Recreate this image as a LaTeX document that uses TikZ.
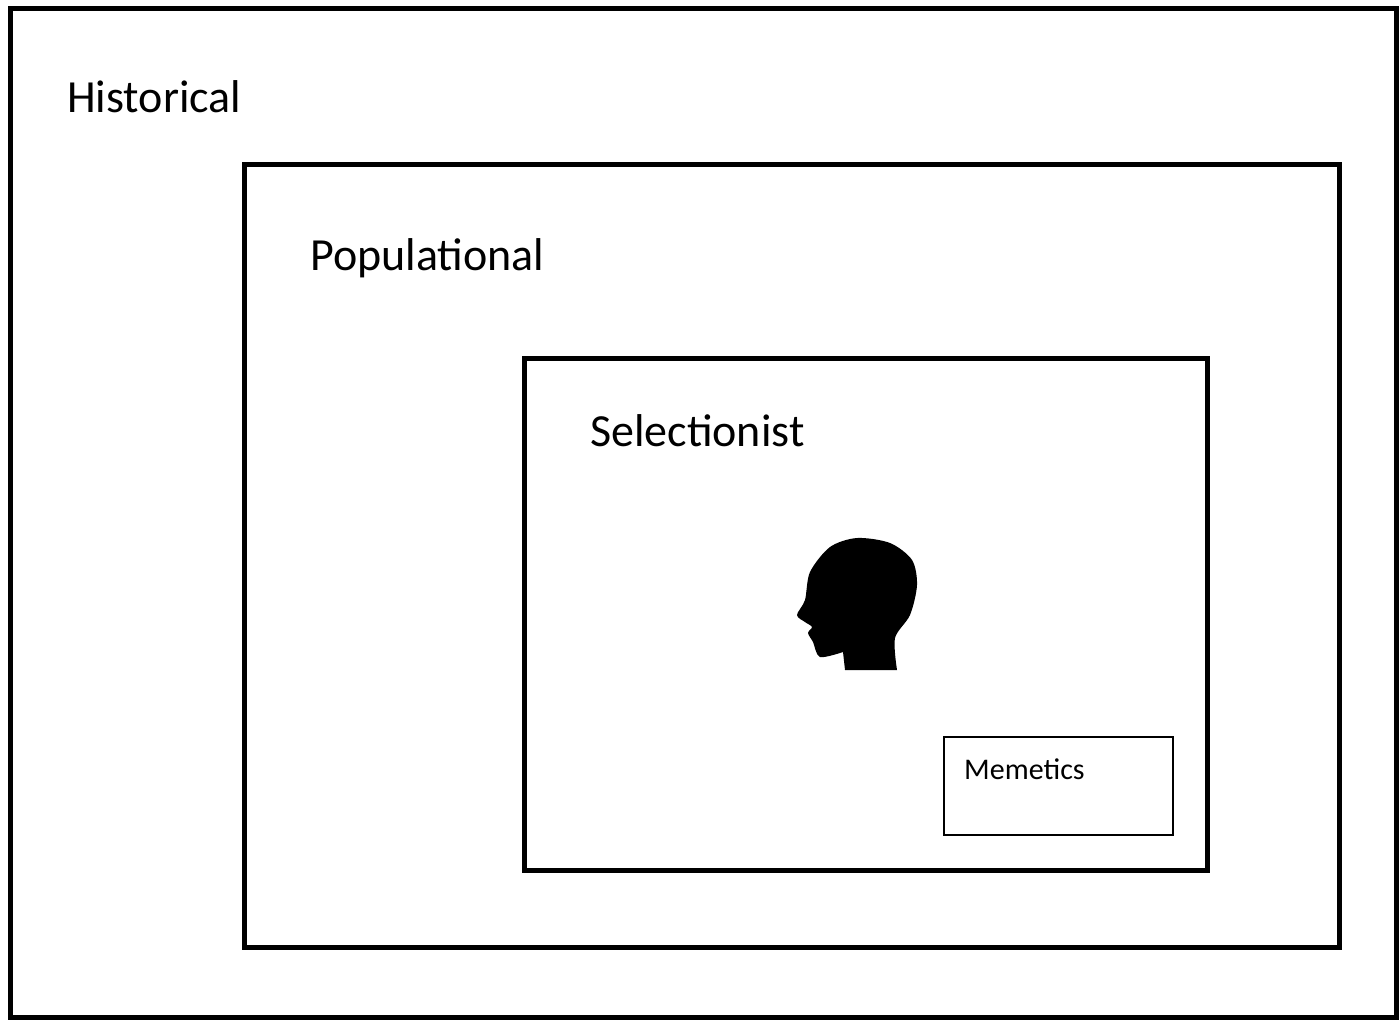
\documentclass[tikz,border=0pt]{standalone}
\usepackage{fontspec}
\setmainfont{Carlito}
\begin{document}
\begin{tikzpicture}[x=1pt,y=-1pt,
  frame/.style={draw=black,line width=5pt},
  lbl/.style={anchor=base west,inner sep=0pt,font=\fontsize{46}{50}\selectfont}]
\useasboundingbox (0,0) rectangle (1400,1021);
\node[frame,minimum width=1386pt,minimum height=1009pt,anchor=north west,inner sep=0pt] (hist) at (8,6) {};
\node[frame,minimum width=1095pt,minimum height=783pt,anchor=north west,inner sep=0pt] (pop) at (242,162) {};
\node[frame,minimum width=683pt,minimum height=512pt,anchor=north west,inner sep=0pt] (sel) at (522,356) {};
\node[draw=black,line width=2pt,minimum width=229pt,minimum height=98pt,anchor=north west,inner sep=0pt] (mem) at (943,736) {};
\node[lbl] (th) at (67,112) {Historical};
\node[lbl] (tp) at (310,270) {Populational};
\node[lbl] (ts) at (590,446) {Selectionist};
\node[anchor=base west,inner sep=0pt,font=\fontsize{30}{34}\selectfont] (tm) at (964,779) {Memetics};
\fill[black] plot[smooth,tension=0.5] coordinates {(843,652) (820,657) (813,642) (808,633) (812,627) (805,622) (797,615) (805,600) (810,572) (830,547) (857,538) (890,543) (912,560) (917,585) (910,615) (895,638) (897,670)}
  -- (845,670) -- cycle;
\end{tikzpicture}
\end{document}
